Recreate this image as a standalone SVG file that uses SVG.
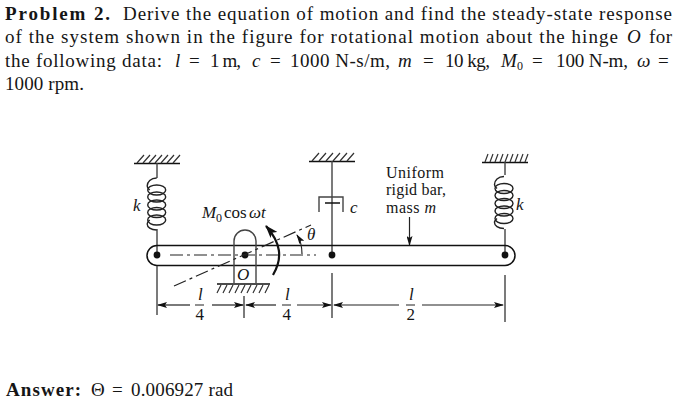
<svg xmlns="http://www.w3.org/2000/svg" width="680" height="403" viewBox="0 0 680 403">
<defs>
<marker id="ah" markerWidth="10" markerHeight="6" refX="9" refY="3" orient="auto" markerUnits="userSpaceOnUse"><path d="M0 0L10 3L0 6L2 3Z" fill="#111"/></marker>
<marker id="ahb" markerWidth="13" markerHeight="9" refX="12" refY="4.5" orient="auto" markerUnits="userSpaceOnUse"><path d="M0 0L13 4.500L0 9L3 4.500Z" fill="#111"/></marker>
<g id="coil"><path d="M0 -26C-6 -26 -9.500 -22 -9.500 -18C-9.500 -16 -8 -15 -7 -14M-7 16C-8 17 -9.500 18 -9.500 20C-9.500 23 -6 26 0 26" class="thick"/><ellipse cy="-14" rx="9" ry="5" class="thick"/><ellipse cy="-7" rx="9" ry="5" class="thick"/><ellipse cy="1" rx="9" ry="5" class="thick"/><ellipse cy="8.500" rx="9" ry="5" class="thick"/><ellipse cy="16" rx="9" ry="5" class="thick"/></g>
</defs>
<style>
text{font-family:"Liberation Serif","Times New Roman",serif;fill:#151515}
.t{font-size:19px}.b{font-weight:bold}.i{font-style:italic}.l{font-size:17px}.u{font-size:16px}
.thin{fill:none;stroke:#222;stroke-width:1.2}
.thick{fill:none;stroke:#222;stroke-width:1.4}
.gray{fill:none;stroke:#444;stroke-width:1.4}
.bar{fill:none;stroke:#111;stroke-width:1.500}
.moment{fill:none;stroke:#111;stroke-width:2.200}
.dash{fill:none;stroke:#222;stroke-width:1.200;stroke-dasharray:13 4 3 4}
.h{fill:none;stroke:#333;stroke-width:1.200}
</style>
<rect width="680" height="403" fill="#fff"/>
<g id="problem-text">
<text class="t b" x="5" y="19.500" textLength="105" lengthAdjust="spacing">Problem 2.</text>
<text class="t" x="123" y="19.500" textLength="549" lengthAdjust="spacing">Derive the equation of motion and find the steady-state response</text>
<text class="t" x="5" y="43" textLength="613" lengthAdjust="spacing">of the system shown in the figure for rotational motion about the hinge</text>
<text class="t i" x="627" y="43">O</text>
<text class="t" x="649" y="43" textLength="23" lengthAdjust="spacing">for</text>
<text class="t" x="5" y="66.700" textLength="157" lengthAdjust="spacing">the following data:</text>
<text class="t i" x="175" y="66.700">l</text>
<text class="t" x="189" y="66.700">=</text>
<text class="t" x="210" y="66.700" textLength="31" lengthAdjust="spacing">1 m,</text>
<text class="t i" x="252" y="66.700">c</text>
<text class="t" x="270" y="66.700">=</text>
<text class="t" x="290" y="66.700" textLength="100" lengthAdjust="spacing">1000 N-s/m,</text>
<text class="t i" x="398" y="66.700">m</text>
<text class="t" x="423" y="66.700">=</text>
<text class="t" x="445" y="66.700" textLength="45" lengthAdjust="spacing">10 kg,</text>
<text class="t i" x="501" y="66.700">M</text>
<text x="517" y="70" font-size="12">0</text>
<text class="t" x="532" y="66.700">=</text>
<text class="t" x="556" y="66.700" textLength="72" lengthAdjust="spacing">100 N-m,</text>
<text class="t i" x="637" y="66.700">ω</text>
<text class="t" x="658" y="66.700">=</text>
<text class="t" x="5" y="90" textLength="79" lengthAdjust="spacing">1000 rpm.</text>
</g>
<g id="answer">
<text class="t b" x="6" y="396" textLength="75" lengthAdjust="spacing">Answer:</text>
<text class="t" x="91" y="396">Θ</text>
<text class="t" x="112" y="396">=</text>
<text class="t" x="131" y="396" textLength="102" lengthAdjust="spacing">0.006927 rad</text>
</g>
<g id="left-support">
<path class="bar" d="M134 163.500H180"/>
<path class="h" d="M137 163L144 155M143 163L150 155M149 163L156 155M155 163L162 155M161 163L168 155M167 163L174 155M173 163L180 155"/>
<path class="gray" d="M157 163V178M157 229V255"/>
<use href="#coil" x="156.700" y="204"/>
<text class="l i" x="133" y="211">k</text>
</g>
<g id="middle-support">
<path class="bar" d="M309 161.500H355"/>
<path class="h" d="M312 161L319 153M319 161L326 153M326 161L333 153M333 161L340 153M340 161L347 153M347 161L354 153"/>
<path class="gray" d="M332 161V255M319 212V197H343V212"/>
<path class="bar" d="M325 203H340"/>
<text class="l i" x="350" y="213">c</text>
</g>
<g id="right-support">
<path class="bar" d="M482 162.500H528"/>
<path class="h" d="M485 162L488 154M490 162L493 154M495 162L498 154M500 162L503 154M505 162L508 154M510 162L513 154M515 162L518 154M520 162L523 154M525 162L528 154"/>
<path class="gray" d="M505 162V175M505 229V255"/>
<use href="#coil" x="504" y="202.500"/>
<text class="l i" x="516" y="210">k</text>
</g>
<g id="bar">
<path class="bar" d="M157 245.500H505A10 10 0 0 1 505 265.500H157A10 10 0 0 1 157 245.500Z"/>
<circle cx="157" cy="255" r="3.400" fill="#111"/>
<circle cx="332" cy="255" r="3.400" fill="#111"/>
<circle cx="505" cy="255" r="3.400" fill="#111"/>
<text class="u" x="386" y="178" textLength="58" lengthAdjust="spacing">Uniform</text>
<text class="u" x="386" y="195" textLength="60" lengthAdjust="spacing">rigid bar,</text>
<text class="u" x="386" y="213" textLength="50" lengthAdjust="spacing">mass <tspan class="i">m</tspan></text>
</g>
<g id="hinge">
<path class="gray" d="M234 283V241A11 11 0 0 1 256 241V283"/>
<path class="bar" d="M217 284H270"/>
<path class="h" d="M221 285L217 293M227 285L223 293M233 285L229 293M239 285L235 293M245 285L241 293M251 285L247 293M257 285L253 293M263 285L259 293M269 285L265 293"/>
<circle cx="245" cy="255" r="3.400" fill="#111"/>
<text class="l i" x="237" y="280">O</text>
</g>
<g id="connectors">
<path class="dash" d="M170 255H316"/>
<path class="dash" d="M174 286L311 225"/>
<path class="moment" d="M273 275C283 258 281 243 266 226" marker-end="url(#ahb)"/>
<path class="thin" d="M302 254C302 247 301 241 297 235" marker-end="url(#ah)"/>
<path class="thin" d="M409.500 217V245" marker-end="url(#ah)"/>
<path class="gray" d="M157 266V315M244 296V318M332 273V318M505 275V322"/>
<path class="thin" d="M190 305H158" marker-end="url(#ah)"/>
<path class="thin" d="M212 305H243" marker-end="url(#ah)"/>
<path class="thin" d="M276 305H246" marker-end="url(#ah)"/>
<path class="thin" d="M297 305H331" marker-end="url(#ah)"/>
<path class="thin" d="M399 305H334" marker-end="url(#ah)"/>
<path class="thin" d="M422 305H503" marker-end="url(#ah)"/>
<path class="thin" d="M195 305H204M282 305H291M406 305H415"/>
</g>
<g id="labels">
<text class="l i" x="202" y="218">M</text><text x="216" y="222" font-size="12">0</text>
<text class="l" x="224" y="218">cos</text><text class="l i" x="249" y="218">ωt</text>
<text class="l i" x="307" y="240">θ</text>
<text class="l i" x="198" y="300">l</text><text class="l" x="195.500" y="320">4</text>
<text class="l i" x="285" y="300">l</text><text class="l" x="282.500" y="320">4</text>
<text class="l i" x="409" y="300">l</text><text class="l" x="406.500" y="320">2</text>
</g>
</svg>
